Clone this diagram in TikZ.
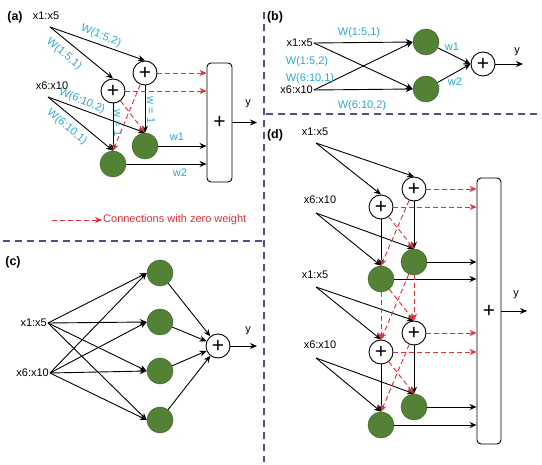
\documentclass[tikz,border=0pt]{standalone}
\usepackage{fontspec}
\setmainfont{Liberation Sans}
\usetikzlibrary{arrows.meta}
\definecolor{gr}{HTML}{538135}
\definecolor{grd}{HTML}{3F6428}
\definecolor{cy}{HTML}{2AAAD4}
\definecolor{rd}{HTML}{E0303A}
\definecolor{pu}{HTML}{5B4A8C}
\tikzset{
 plusnode/.style={circle,draw,line width=0.9pt,minimum size=24pt,inner sep=0pt,font=\fontsize{21}{21}\selectfont,fill=white},
 neuron/.style={circle,fill=gr,draw=grd,line width=0.5pt,minimum size=26pt,inner sep=0pt},
 sumbox/.style={draw,line width=0.9pt,rounded corners=4pt,inner sep=0pt,font=\fontsize{21}{21}\selectfont},
 conn/.style={line width=0.9pt,-{Stealth[length=7pt,width=6pt]}},
 zero/.style={line width=0.9pt,rd,dash pattern=on 5pt off 3pt,-{Stealth[length=7pt,width=6pt]}},
 lbl/.style={font=\fontsize{11}{11}\selectfont,inner sep=1pt},
 wlbl/.style={font=\fontsize{11}{11}\selectfont,text=cy,inner sep=0pt},
 panel/.style={font=\bfseries\fontsize{12.5}{12.5}\selectfont,inner sep=0pt},
 divider/.style={pu,line width=2pt,dash pattern=on 7pt off 5pt},
}
\begin{document}
\begin{tikzpicture}[x=1pt,y=-1pt]
\useasboundingbox (0,0) rectangle (542,465);
% dividers
\draw[divider] (264,12) -- (264,462);
\draw[divider] (266,114) -- (540,114);
\draw[divider] (3,241) -- (262,241);

% ---------- panel (a)
\node[panel] (pa) at (15,17) {(a)};
\node[plusnode] (aup) at (145,73) {+};
\node[plusnode] (alp) at (113,91) {+};
\node[neuron] (aug) at (145,146) {};
\node[neuron] (alg) at (113,164) {};
\node[sumbox,minimum width=25pt,minimum height=119pt] (abox) at (219.5,122.5) {+};
\node[lbl] (ax1) at (46,16) {x1:x5};
\coordinate (ax1s) at (50,27);
\node[lbl] (ax6) at (52,86) {x6:x10};
\coordinate (ax6s) at (48,97);
\draw[conn] (ax1s) -- (aup.north);
\draw[conn] (ax1s) -- (alp.north);
\draw[conn] (ax6s) -- (aug.north);
\draw[conn] (ax6s) -- (alg.north);
\draw[conn] (aup) -- (aug);
\draw[conn] (alp) -- (alg);
\draw[zero] (aup) -- (aup -| abox.west);
\draw[zero] (alp) -- (alp -| abox.west);
\draw[zero] (alp) -- (aug.north);
\draw[zero] (aup) -- (alg.north);
\draw[conn] (aug) -- (aug -| abox.west);
\draw[conn] (alg) -- (alg -| abox.west);
\coordinate (ay) at (257,122.5);
\draw[conn] (abox.east) -- (ay);
\node[lbl] (ayl) at (248,104) {y};
\node[wlbl] (aw1) at (177,137) {w1};
\node[wlbl] (aw2) at (180,173) {w2};
\node[wlbl,rotate=-22] (aW152) at (101,36) {W(1:5,2)};
\node[wlbl,rotate=-40] (aW151) at (64,54) {W(1:5,1)};
\node[wlbl,rotate=-22] (aW1062) at (82,101) {W(6:10,2)};
\node[wlbl,rotate=-40] (aW1061) at (67,127) {W(6:10,1)};
\node[wlbl,rotate=-90] (awu) at (151,110) {w = 1};
\node[wlbl,rotate=-90] (awl) at (118,123) {w = 1};
% legend
\coordinate (lgs) at (52,220);
\node[lbl,text=rd,anchor=west] (lgt) at (102,220) {Connections with zero weight};
\draw[zero] (lgs) -- (lgt.west);

% ---------- panel (b)
\node[panel] (pb) at (275,17) {(b)};
\node[lbl,anchor=east] (bx1) at (314,43) {x1:x5};
\node[lbl,anchor=east] (bx6) at (314,90) {x6:x10};
\node[neuron] (bg1) at (426,42) {};
\node[neuron] (bg2) at (426,89) {};
\node[plusnode] (bp) at (483,64) {+};
\draw[conn] (bx1.east) -- (bg1.west);
\draw[conn] (bx1.east) -- (bg2.west);
\draw[conn] (bx6.east) -- (bg1.west);
\draw[conn] (bx6.east) -- (bg2.west);
\draw[conn] (bg1) -- (bp.west);
\draw[conn] (bg2) -- (bp.west);
\coordinate (by) at (523,64);
\draw[conn] (bp) -- (by);
\node[lbl] (byl) at (517,52) {y};
\node[wlbl] (bW151) at (359,33) {W(1:5,1)};
\node[wlbl] (bW152) at (307,62) {W(1:5,2)};
\node[wlbl] (bW1061) at (310,79) {W(6:10,1)};
\node[wlbl] (bW1062) at (362,106) {W(6:10,2)};
\node[wlbl] (bw1) at (452,47) {w1};
\node[wlbl] (bw2) at (455,82) {w2};

% ---------- panel (c)
\node[panel] (pc) at (13,262) {(c)};
\node[lbl,anchor=east] (cx1) at (48,323) {x1:x5};
\node[lbl,anchor=east] (cx6) at (50,373) {x6:x10};
\node[neuron] (cg1) at (160,273) {};
\node[neuron] (cg2) at (160,322) {};
\node[neuron] (cg3) at (160,371) {};
\node[neuron] (cg4) at (160,420) {};
\node[plusnode] (cp) at (218,346) {+};
\foreach \g in {cg1,cg2,cg3,cg4}{
  \draw[conn] (cx1.east) -- (\g.west);
  \draw[conn] (cx6.east) -- (\g.west);
  \draw[conn] (\g) -- (cp);
}
\coordinate (cy) at (257,346);
\draw[conn] (cp) -- (cy);
\node[lbl] (cyl) at (248,331) {y};

% ---------- panel (d)
\node[panel] (pd) at (275,135) {(d)};
\node[sumbox,minimum width=24pt,minimum height=266pt] (dbox) at (489,311) {+};
% block 1
\node[lbl] (d1x1) at (315,132) {x1:x5};
\coordinate (d1x1s) at (316,143);
\node[lbl] (d1x6) at (320,200) {x6:x10};
\coordinate (d1x6s) at (316,213);
\node[plusnode] (du1) at (414,189) {+};
\node[plusnode] (dl1) at (381,207) {+};
\node[neuron] (dug1) at (414,262) {};
\node[neuron] (dlg1) at (381,279) {};
% block 2
\node[lbl] (d2x1) at (315,275) {x1:x5};
\coordinate (d2x1s) at (316,287);
\node[lbl] (d2x6) at (320,345) {x6:x10};
\coordinate (d2x6s) at (316,358);
\node[plusnode] (du2) at (414,333) {+};
\node[plusnode] (dl2) at (381,352) {+};
\node[neuron] (dug2) at (414,407) {};
\node[neuron] (dlg2) at (381,425) {};
% black connections
\draw[conn] (d1x1s) -- (du1.north);
\draw[conn] (d1x1s) -- (dl1.north);
\draw[conn] (d1x6s) -- (dug1.north);
\draw[conn] (d1x6s) -- (dlg1.north);
\draw[conn] (du1) -- (dug1);
\draw[conn] (dl1) -- (dlg1);
\draw[conn] (d2x1s) -- (du2.north);
\draw[conn] (d2x1s) -- (dl2.north);
\draw[conn] (d2x6s) -- (dug2.north);
\draw[conn] (d2x6s) -- (dlg2.north);
\draw[conn] (du2) -- (dug2);
\draw[conn] (dl2) -- (dlg2);
\foreach \g in {dug1,dlg1,dug2,dlg2}{
  \draw[conn] (\g) -- (\g -| dbox.west);
}
% zero-weight connections
\foreach \p in {du1,dl1,du2,dl2}{
  \draw[zero] (\p) -- (\p -| dbox.west);
}
\draw[zero] (dl1) -- (dug1.north);
\draw[zero] (du1) -- (dlg1.north);
\draw[zero] (dlg1) -- (dl2.north);
\draw[zero] (dug1) -- (du2.north);
\draw[zero] (dlg1) -- (du2.north);
\draw[zero] (dug1) -- (dl2.north);
\draw[zero] (dl2) -- (dug2.north);
\draw[zero] (du2) -- (dlg2.north);
\coordinate (dy) at (527,311);
\draw[conn] (dbox.east) -- (dy);
\node[lbl] (dyl) at (516,295) {y};
\end{tikzpicture}
\end{document}
